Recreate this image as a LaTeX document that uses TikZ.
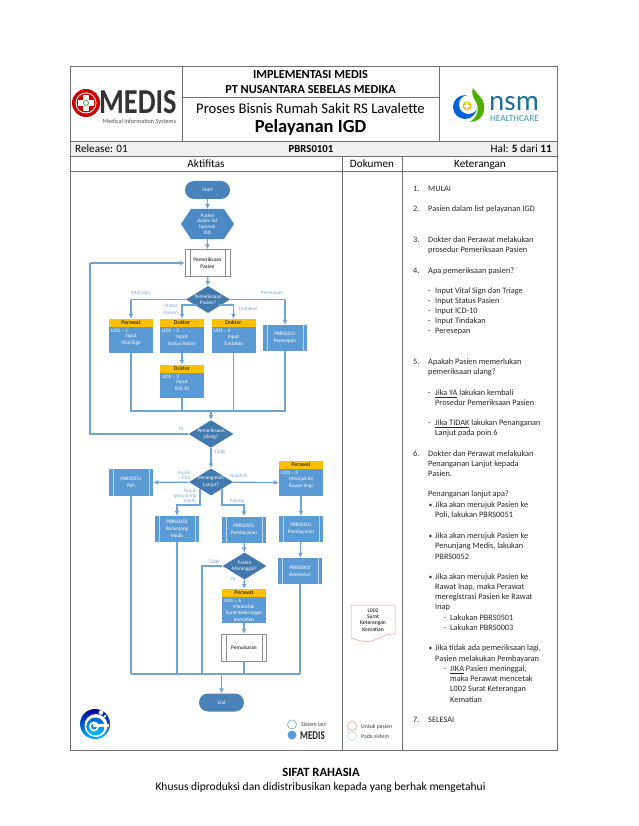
\documentclass[tikz,border=0pt]{standalone}
\usepackage{fontspec}
\setmainfont{Carlito}
\usetikzlibrary{arrows.meta,shapes.geometric,calc}
\definecolor{flowblue}{HTML}{5B9BD5}
\definecolor{darkblue}{HTML}{4279AE}
\definecolor{termblue}{HTML}{4A82BA}
\definecolor{hexblue}{HTML}{4C8AC6}
\definecolor{linkblue}{HTML}{6FA3D6}
\definecolor{amber}{HTML}{FFC000}
\definecolor{rulegray}{HTML}{6E6E6E}
\definecolor{labelblue}{HTML}{7FA6CC}
\definecolor{pinkline}{HTML}{E39A9A}
\definecolor{nsmteal}{HTML}{1F6F96}
\definecolor{nsmlight}{HTML}{3F8FB5}
\newcommand{\fs}[1]{\fontsize{#1}{#1}\selectfont}
\tikzset{
  frame/.style={draw=rulegray,line width=.9pt},
  hd/.style={inner sep=0pt,text=black},
  kt/.style={anchor=base west,inner sep=0pt,text=black!85,font=\fs{8.3}},
  link/.style={draw=linkblue,line width=1.2pt},
  arr/.style={link,-{Latex[length=5pt,width=5pt]}},
  lbl/.style={inner sep=0pt,text=labelblue,font=\fs{5.2},align=center},
  wt/.style={text=white,font=\fs{5.2},align=center,inner sep=0pt},
  boxb/.style={fill=flowblue,draw=none,minimum width=44pt,inner sep=0pt,wt},
  yel/.style={fill=amber,draw=none,minimum width=44pt,minimum height=8pt,inner sep=0pt,text=black,font=\fs{5.8}},
  dia/.style={fill=darkblue,draw=none,diamond,aspect=1.63,inner sep=0pt,minimum width=44pt,minimum height=27pt,wt},
  term/.style={fill=termblue,draw=none,rounded corners=9pt,minimum width=45pt,minimum height=18pt,inner sep=0pt,wt},
}
% blue predefined-process box
\newcommand{\pbox}[5]{% name, cx, cy, h, text
  \node[boxb,minimum height=#4pt] (#1) at (#2,#3) {#5};
  \draw[white!60!flowblue,line width=.35pt] ($(#1.north west)+(4,0)$) -- ($(#1.south west)+(4,0)$);
  \draw[white!60!flowblue,line width=.35pt] ($(#1.north east)+(-4,0)$) -- ($(#1.south east)+(-4,0)$);
}
% white predefined-process box
\newcommand{\wbox}[5]{%
  \node[draw=black!45,line width=.4pt,fill=white,minimum width=45pt,minimum height=#4pt,inner sep=0pt,align=center,font=\fs{5.4},text=black] (#1) at (#2,#3) {#5};
  \draw[black!45,line width=.4pt] ($(#1.north west)+(5,0)$) -- ($(#1.south west)+(5,0)$);
  \draw[black!45,line width=.4pt] ($(#1.north east)+(-5,0)$) -- ($(#1.south east)+(-5,0)$);
}
% yellow-headed activity box
\newcommand{\abox}[8]{% name, cx, ytop, ybot, role, code, text, y offset of the text
  \node[yel] (#1h) at (#2,#3+4) {#5};
  \pgfmathsetmacro{\boxh}{#4-#3-8}
  \node[boxb,anchor=north,minimum height=\boxh pt] (#1) at (#2,#3+8) {};
  \node[wt,anchor=west] (#1c) at (#2-20,#3+12) {#6};
  \node[wt,align=center] (#1t) at (#2,{(#3+8+#4)/2+#8}) {#7};
}
\begin{document}
\begin{tikzpicture}[x=1pt,y=-1pt]
\useasboundingbox (0,0) rectangle (638,826);
\fill[white] (0,0) rectangle (638,826);

% ---- table
\fill[black!6] (70,141) rectangle (557,156);
\draw[frame] (70,66) rectangle (557,750);
\draw[frame] (182,66) -- (182,141);
\draw[frame] (439,66) -- (439,141);
\draw[frame] (182,97) -- (439,97);
\draw[frame] (70,141) -- (557,141);
\draw[frame] (70,156) -- (557,156);
\draw[frame] (70,171) -- (557,171);
\draw[frame] (342,156) -- (342,750);
\draw[frame] (402,156) -- (402,750);

\node[hd,font=\fs{12.3}\bfseries] (t1) at (310.5,74.5) {IMPLEMENTASI MEDIS};
\node[hd,font=\fs{12.3}\bfseries] (t2) at (310.5,89.5) {PT NUSANTARA SEBELAS MEDIKA};
\node[hd,font=\fs{14.7}] (t3) at (310.5,108) {Proses Bisnis Rumah Sakit RS Lavalette};
\node[hd,font=\fs{18.5}\bfseries] (t4) at (310.5,127) {Pelayanan IGD};
\node[hd,anchor=base west,font=\fs{11.2}] (rel) at (75,152.5) {Release: 01};
\node[hd,anchor=base,font=\fs{10.8}\bfseries] (code) at (311,152.5) {PBRS0101};
\node[hd,anchor=base east,font=\fs{11.2}] (hal) at (552,152.5) {Hal: \textbf{5} dari \textbf{11}};
\node[hd,anchor=base,font=\fs{11.2}] (c1) at (206,167.5) {Aktifitas};
\node[hd,anchor=base,font=\fs{11.2}] (c2) at (372,167.5) {Dokumen};
\node[hd,anchor=base,font=\fs{11.2}] (c3) at (480,167.5) {Keterangan};

% ---- MEDIS logo
\fill[red!80!black] (86,103) circle (14);
\fill[white] (86,103) circle (10.5);
\fill[red!80!black] (86,103) circle (9.5);
\fill[white] (83,95) rectangle (89,111);
\fill[white] (78,100) rectangle (94,106);
\draw[black!50!green,line width=.5pt] (86,103) circle (2.5);
\node[hd,font=\fs{35}\bfseries,text=black!80,anchor=base west] (lg) at (99,114) {\scalebox{.81}[1]{MEDIS}};
\node[hd,font=\fs{6.2},text=black!70] (lgs) at (139.5,122) {Medical Information Systems};

% ---- NSM logo
\fill[blue!55!cyan!85!black] (465,107) circle (12);
\fill[white] (468.5,104.5) circle (9.5);
\fill[green!55!black!70!yellow] (473,88) .. controls (477,95) and (486,99) .. (484,110) .. controls (483,118) and (477,122) .. (470,122) .. controls (477,117) and (480,110) .. (476,102) .. controls (473,97) and (471,93) .. (473,88) -- cycle;
\fill[amber] (467,106) circle (4.5);
\fill[white] (466,103) rectangle (468,109);
\fill[white] (464,105) rectangle (470,107);
\node[hd,font=\fs{29},text=nsmteal,anchor=base west] (nsm) at (489,110.5) {nsm};
\node[hd,font=\fs{9.2},text=nsmlight,anchor=base west] (hc) at (490,122) {HEALTHCARE};

% ---- flow nodes
\node[term] (start) at (207.5,190) {Start};
\path[fill=hexblue] (181,224) -- (191,209) -- (224,209) -- (234,224) -- (224,239) -- (191,239) -- cycle;
\node[wt,align=center] (hex) at (207.5,224) {Pasien\\[.6pt]dalam list\\[.6pt]layanan\\[.6pt]IGD};
\wbox{pem}{207.5}{263}{27}{Pemeriksaan\\[1.3pt]Pasien}
\node[dia] (d1) at (208,299.5) {Pemeriksaan\\[1.3pt]Pasien?};

\abox{a1}{131}{319}{353}{Perawat}{UD1 – 1}{Input\\[1.5pt]Vital Sign}{0}
\abox{a2}{182}{319}{353}{Dokter}{UD1 – 2}{Input\\[1.5pt]Status Pasien}{0}
\abox{a4}{233.5}{319}{353}{Dokter}{UD1 – 4}{Input\\[1.5pt]Tindakan}{0}
\pbox{presc}{285}{338}{26}{PBRS0201\\[1.5pt]Peresepan}
\abox{a3}{182}{365}{398}{Dokter}{UD1 – 3}{Input\\[1.5pt]ICD-10}{0}

\node[dia] (d2) at (211,434) {Pemeriksaan\\[1.3pt]Ulang?};
\node[dia] (d3) at (211,482) {Penanganan\\[1.3pt]Lanjut?};
\pbox{poli}{131}{482.5}{27}{PBRS0051\\[1.5pt]Poli}
\abox{a5}{301}{461}{496}{Perawat}{UD1 – 5}{Merujuk ke\\[1.5pt]Rawat Inap}{0}
\pbox{pen}{177}{529}{26}{PBRS0052\\[1.5pt]Penunjang\\[1.5pt]Medis}
\pbox{bayar}{244}{529.5}{26}{PBRS0501\\[1.5pt]Pembayaran}
\pbox{bayarb}{301}{529}{26}{PBRS0501\\[1.5pt]Pembayaran}
\node[dia] (d4) at (244.5,566) {Pasien\\[1.3pt]Meninggal?};
\pbox{adm}{300}{571}{26}{PBRS0003\\[1.5pt]Admission}
\abox{a6}{244}{589}{623}{Perawat}{UD1 – 6}{Mencetak\\[1.5pt]Surat Keterangan\\[1.5pt]Kematian}{3}
\wbox{mul}{244}{647.5}{27}{Pemulsaran}
\node[term] (end) at (221.5,702.5) {End};

% ---- junctions
\coordinate (loopb) at (90,434);
\coordinate (loopt) at (90,263);
\coordinate (j1m) at (211,411);
\coordinate (j2l) at (131,674);
\coordinate (j2r) at (300,674);
\coordinate (j2m) at (221.5,674);
\coordinate (tdk) at (202,566);

% ---- connectors
\draw[arr] (start) -- (207.5,209);
\draw[arr] (207.5,239) -- (pem.north);
\draw[arr] (pem) -- (d1);
\draw[arr] (d1.west) -| (a1h.north);
\draw[arr] (d1.east) -| (presc.north);
\draw[arr] (197,305) -- (182,305) -- (a2h.north);
\draw[arr] (219,305) -- (233.5,305) -- (a4h.north);
\draw[arr] (a2) -- (a3h);
\draw[link] (a1) |- (j1m);
\draw[link] (presc) |- (j1m);
\draw[link] (a3) -- (182,411);
\draw[link] (a4) -- (233.5,411);
\draw[arr] (j1m) -- (d2);
\draw[link] (d2) -- (loopb) -- (loopt);
\draw[arr] (loopt) -- (pem.west);
\draw[arr] (d2) -- (d3);
\draw[arr] (d3) -- (poli);
\draw[arr] (d3) -- (a5);
\draw[arr] (200,489) -- (200,505) -- (177,505) -- (pen.north);
\draw[arr] (222,489) -- (222,505) -- (244,505) -- (bayar.north);
\draw[arr] (a5) -- (a5 |- bayarb.north);
\draw[arr] (bayarb) -- (adm);
\draw[arr] (bayar) -- (d4);
\draw[arr] (d4) -- (a6h);
\draw[arr] (a6) -- (mul);
\draw[link] (d4) -- (tdk) -- (202,674);
\draw[link] (poli) -- (j2l);
\draw[link] (pen) -- (177,674);
\draw[link] (mul) -- (244,674);
\draw[link] (adm) -- (j2r);
\draw[link] (j2l) -- (j2r);
\draw[arr] (j2m) -- (end);

% ---- connector labels
\node[lbl] (lv) at (140.5,293) {Vital sign};
\node[lbl] (lp) at (272,293) {Peresepan};
\node[lbl] (ls) at (171,309.5) {Status\\[1.3pt]Pasien};
\node[lbl] (lt) at (248,309) {Tindakan};
\node[lbl] (ly) at (181,429) {Ya};
\node[lbl] (ltd) at (220,452) {Tidak};
\node[lbl,align=right] (lrp) at (184,475.5) {Rujuk\\Poli};
\node[lbl] (lri) at (239,476) {Rujuk RI};
\node[lbl,align=right] (lrm) at (185,496) {Rujuk\\penunjang\\medis};
\node[lbl] (lpl) at (237,501) {Pulang};
\node[lbl] (ltd2) at (214,561.5) {Tidak};
\node[lbl] (ly2) at (233,579) {Ya};

% ---- document
\path[draw=pinkline,line width=.5pt,fill=white] (351,605) -- (395,605) -- (395,634) .. controls (384,634) and (380,638) .. (372,641) .. controls (365,643) and (358,640) .. (351,638) -- cycle;
\node[hd,font=\fs{5.6},align=center] (doc) at (373,620) {L002\\[.6pt]Surat\\[.6pt]Keterangan\\[.6pt]Kematian};

% ---- legend
\node[circle,draw=flowblue,line width=.5pt,minimum size=9pt,inner sep=0pt] (l1) at (292,724.5) {};
\node[hd,anchor=west,font=\fs{5.8},text=black!75] (l1t) at (301,724.5) {Sistem lain};
\node[circle,fill=flowblue,minimum size=9pt,inner sep=0pt] (l2) at (292,735) {};
\node[hd,anchor=west,font=\fs{12}\bfseries,text=black!85] (l2t) at (300,735.5) {\scalebox{.75}[1]{MEDIS}};
\node[circle,draw=pinkline,line width=.5pt,minimum size=9pt,inner sep=0pt] (l3) at (352,726) {};
\node[hd,anchor=west,font=\fs{5.8},text=black!75] (l3t) at (361,726.5) {Untuk pasien};
\node[circle,draw=flowblue!50,line width=.5pt,minimum size=9pt,inner sep=0pt] (l4) at (352,736) {};
\node[hd,anchor=west,font=\fs{5.8},text=black!75] (l4t) at (361,736) {Pada sistem};

% ---- G logo
\shade[top color=blue!60!black,bottom color=cyan!70!blue] (95,724) circle (15);
\fill[white] (96,725.5) circle (11.5);
\shade[top color=blue!55!cyan!85!black,bottom color=cyan!75!blue] (95.5,726.5) circle (9);
\fill[white] (94,726.5) circle (5);
\fill[cyan!70!blue] (94,726.5) circle (3);
\fill[white] (93,724) rectangle (109,726.5);
\fill[white] (101,712.5) circle (2.3);
\fill[white] (105,716) circle (1.5);

% ---- Keterangan
\newcommand{\kn}[4]{\node[kt] (#1) at (#2,#3+2.6) {#4};}
\kn{n1}{413}{189}{1.} \kn{k1}{428}{189}{MULAI}
\kn{n2}{413}{209}{2.} \kn{k2}{428}{209}{Pasien dalam list pelayanan IGD}
\kn{n3}{413}{240}{3.} \kn{k3a}{428}{240}{Dokter dan Perawat melakukan}
\kn{k3b}{428}{250}{prosedur Pemeriksaan Pasien}
\kn{n4}{413}{271}{4.} \kn{k4}{428}{271}{Apa pemeriksaan pasien?}
\kn{d4a}{428}{291}{-} \kn{k4a}{435}{291}{Input Vital Sign dan Triage}
\kn{d4b}{428}{301}{-} \kn{k4b}{435}{301}{Input Status Pasien}
\kn{d4c}{428}{311}{-} \kn{k4c}{435}{311}{Input ICD-10}
\kn{d4d}{428}{321}{-} \kn{k4d}{435}{321}{Input Tindakan}
\kn{d4e}{428}{331}{-} \kn{k4e}{435}{331}{Peresepan}
\kn{n5}{413}{362}{5.} \kn{k5a}{428}{362}{Apakah Pasien memerlukan}
\kn{k5b}{428}{372}{pemeriksaan ulang?}
\kn{d5a}{428}{393}{-} \kn{k5c}{435}{393}{\underline{Jika YA} lakukan kembali}
\kn{k5d}{435}{403}{Prosedur Pemeriksaan Pasien}
\kn{d5b}{428}{423}{-} \kn{k5e}{435}{423}{\underline{Jika TIDAK} lakukan Penanganan}
\kn{k5f}{435}{433}{Lanjut pada poin 6}
\kn{n6}{413}{454}{6.} \kn{k6a}{428}{454}{Dokter dan Perawat melakukan}
\kn{k6b}{428}{464}{Penanganan Lanjut kepada}
\kn{k6c}{428}{474}{Pasien.}
\kn{k6d}{428}{494}{Penanganan lanjut apa?}
\newcommand{\bul}[3]{\fill[black!85] (430.5,#2) circle (1.3); \kn{#1}{435}{#2}{#3}}
\bul{k6e}{505}{Jika akan merujuk Pasien ke}
\kn{k6f}{435}{515}{Poli, lakukan PBRS0051}
\bul{k6g}{536}{Jika akan merujuk Pasien ke}
\kn{k6h}{435}{546}{Penunjang Medis, lakukan}
\kn{k6i}{435}{557}{PBRS0052}
\bul{k6j}{577}{Jika akan merujuk Pasien ke}
\kn{k6k}{435}{587}{Rawat Inap, maka Perawat}
\kn{k6l}{435}{597}{meregistrasi Pasien ke Rawat}
\kn{k6m}{435}{607}{Inap}
\kn{d6a}{443.5}{618}{-} \kn{k6n}{450}{618}{Lakukan PBRS0501}
\kn{d6b}{443.5}{628}{-} \kn{k6o}{450}{628}{Lakukan PBRS0003}
\bul{k6p}{648}{Jika tidak ada pemeriksaan lagi,}
\kn{k6q}{435}{659}{Pasien melakukan Pembayaran}
\kn{d6c}{443.5}{669}{-} \kn{k6r}{450}{669}{\underline{JIKA} Pasien meninggal,}
\kn{k6s}{450}{679}{maka Perawat mencetak}
\kn{k6t}{450}{689}{L002 Surat Keterangan}
\kn{k6u}{450}{700}{Kematian}
\kn{n7}{413}{720}{7.} \kn{k7}{428}{720}{SELESAI}

% ---- footer
\node[hd,font=\fs{12.6}\bfseries] (f1) at (321,772) {SIFAT RAHASIA};
\node[hd,font=\fs{11.5}] (f2) at (320.5,787) {Khusus diproduksi dan didistribusikan kepada yang berhak mengetahui};
\end{tikzpicture}
\end{document}
